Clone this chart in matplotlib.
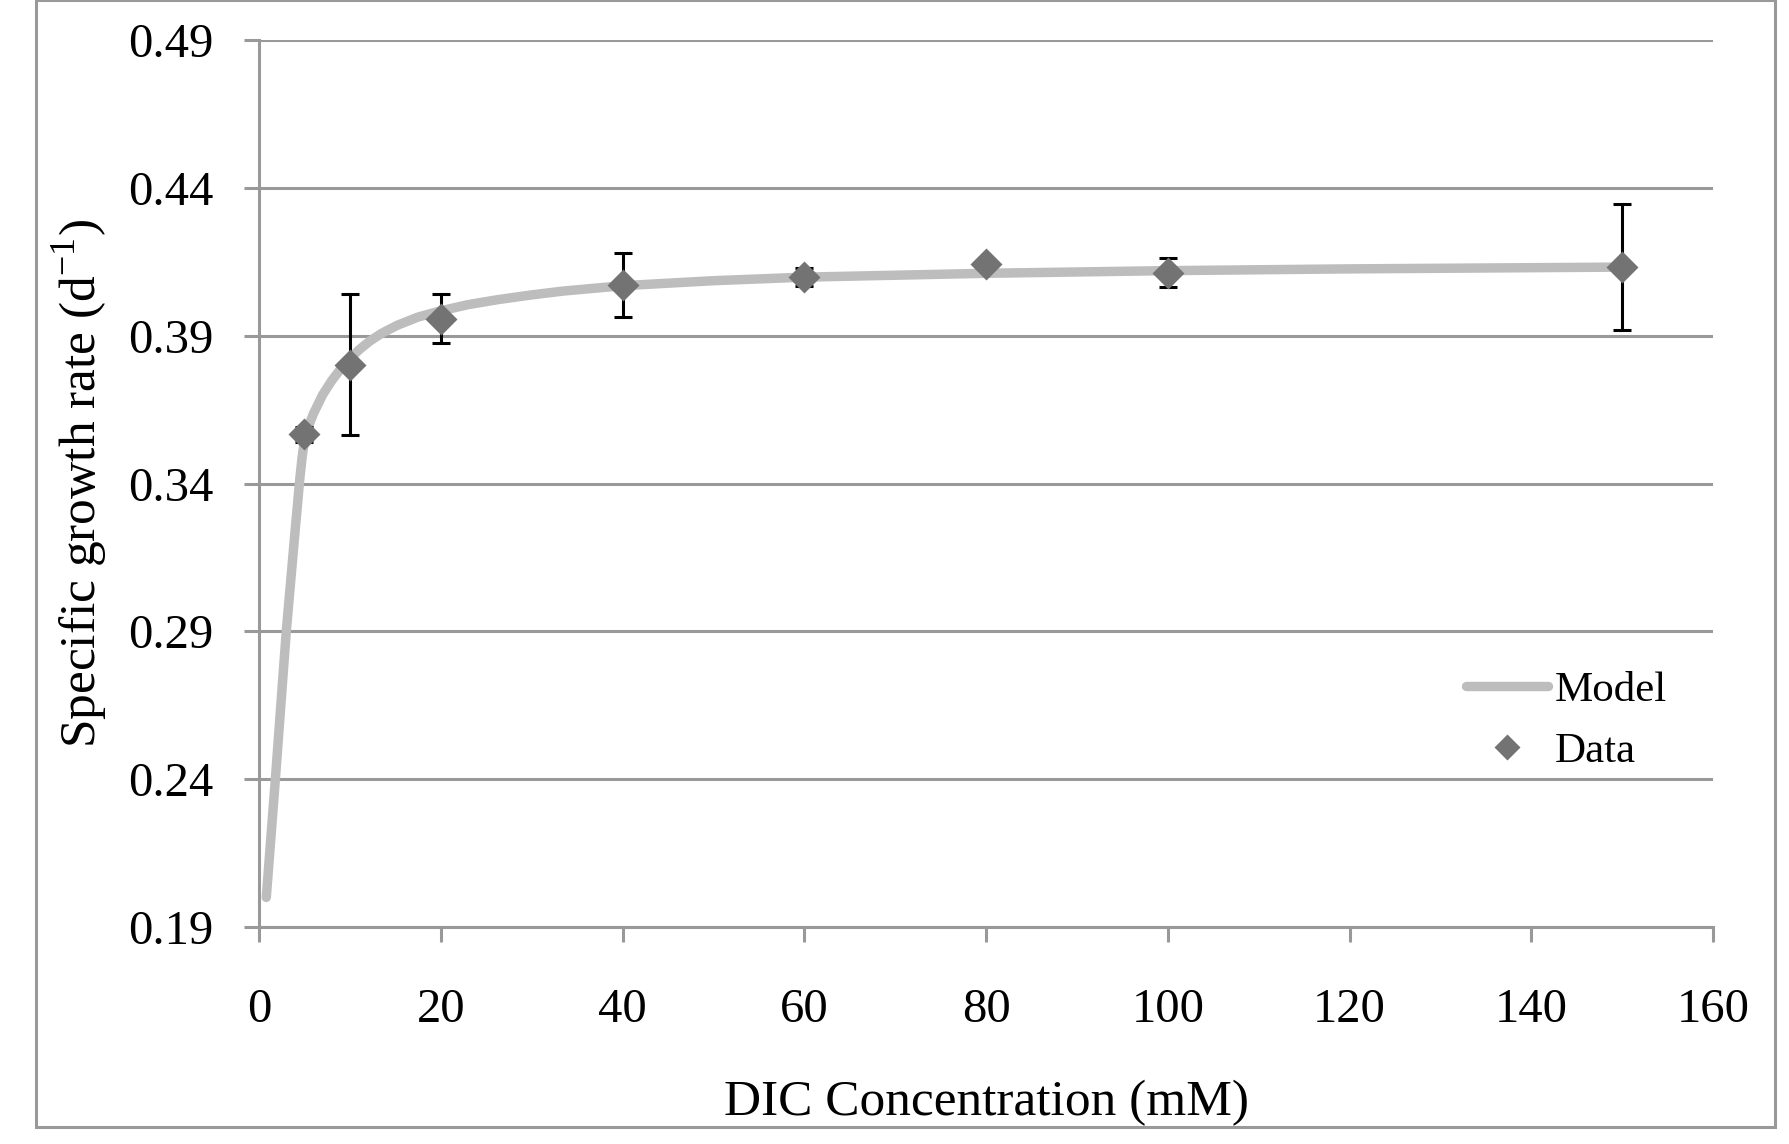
import matplotlib.pyplot as plt
from matplotlib.patches import Rectangle
from matplotlib.lines import Line2D

plt.rcParams['font.family'] = ['Liberation Serif', 'DejaVu Serif']
plt.rcParams['mathtext.fontset'] = 'custom'
plt.rcParams['mathtext.rm'] = 'Liberation Serif'

# measured data (DIC in mM, growth rate in 1/d)
dic = [5, 10, 20, 40, 60, 80, 100, 150]
rate = [0.3566, 0.3802, 0.3957, 0.4071, 0.4099, 0.4142, 0.4113, 0.4131]
rate_err = [0.0025, 0.0239, 0.0083, 0.0108, 0.003, 0.0015, 0.005, 0.0213]

# model curve
model_x = [0.8, 1.8, 3.0, 4.0, 4.5, 4.75, 5.0, 5.5, 6.0, 7.0, 8.0, 9.0, 10,
           11, 12.2, 13.5, 15.2, 17.5, 20, 23, 26.3, 30, 33.5, 40, 50, 60,
           80, 100, 120, 150]
model_y = [0.200, 0.240, 0.290, 0.325, 0.342, 0.349, 0.3545, 0.3598, 0.3637,
           0.3700, 0.3748, 0.3788, 0.3822, 0.3852, 0.3882, 0.3908, 0.3935,
           0.3963, 0.3984, 0.4005, 0.4022, 0.4038, 0.4051, 0.4069, 0.4086,
           0.4098, 0.4111, 0.4120, 0.4126, 0.4132]

xticks = [0, 20, 40, 60, 80, 100, 120, 140, 160]
yticks = [0.19, 0.24, 0.29, 0.34, 0.39, 0.44, 0.49]

grey = '#999999'

fig = plt.figure(figsize=(17.9, 11.44), dpi=100)
ax = fig.add_axes([0.1447, 0.1897, 0.9570 - 0.1447, 0.9650 - 0.1897])

ax.plot(model_x, model_y, color='#bdbdbd', lw=6.8, solid_capstyle='round',
        solid_joinstyle='round', zorder=2)
ax.errorbar(dic, rate, yerr=rate_err, fmt='none', ecolor='black',
            elinewidth=2.2, capsize=6.5, capthick=2.2, zorder=3)
ax.plot(dic, rate, ls='none', marker='D', ms=16, color='#737373',
        mec='none', zorder=4)

ax.set_xlim(0, 160)
ax.set_ylim(0.19, 0.49)
ax.set_xticks(xticks)
ax.set_yticks(yticks)
ax.set_yticklabels([f'{v:.2f}' for v in yticks])
ax.grid(axis='y', color=grey, lw=2.2)
ax.set_axisbelow(True)

for s in ['top', 'right']:
    ax.spines[s].set_visible(False)
for s in ['left', 'bottom']:
    ax.spines[s].set_color(grey)
    ax.spines[s].set_linewidth(2.2)

ax.tick_params(axis='both', direction='out', length=11, width=2.2,
               color=grey, labelsize=35)
ax.tick_params(axis='x', pad=33)
ax.tick_params(axis='y', pad=22)

ax.set_xlabel('DIC Concentration (mM)', fontsize=37, labelpad=34)
ax.set_ylabel(r'Specific growth rate (d$^{\mathrm{-1}}$)', fontsize=37,
              labelpad=13)

handles = [Line2D([], [], color='#bdbdbd', lw=6.8, solid_capstyle='round'),
           Line2D([], [], ls='none', marker='D', ms=13, color='#737373',
                  mec='none')]
fig.legend(handles, ['Model', 'Data'], loc='upper left',
           bbox_to_anchor=(1466 / 1790, 1 - 671 / 1144), frameon=False,
           fontsize=31, handlelength=1.9, handletextpad=0.15,
           borderpad=0, borderaxespad=0, labelspacing=0.5)

# outer chart border
fig.patches.append(Rectangle((36 / 1790, 1 - 1127 / 1144),
                             (1775 - 36) / 1790, 1127 / 1144,
                             transform=fig.transFigure, fill=False,
                             edgecolor=grey, lw=2.2))

fig.savefig('out.png', dpi=100)
